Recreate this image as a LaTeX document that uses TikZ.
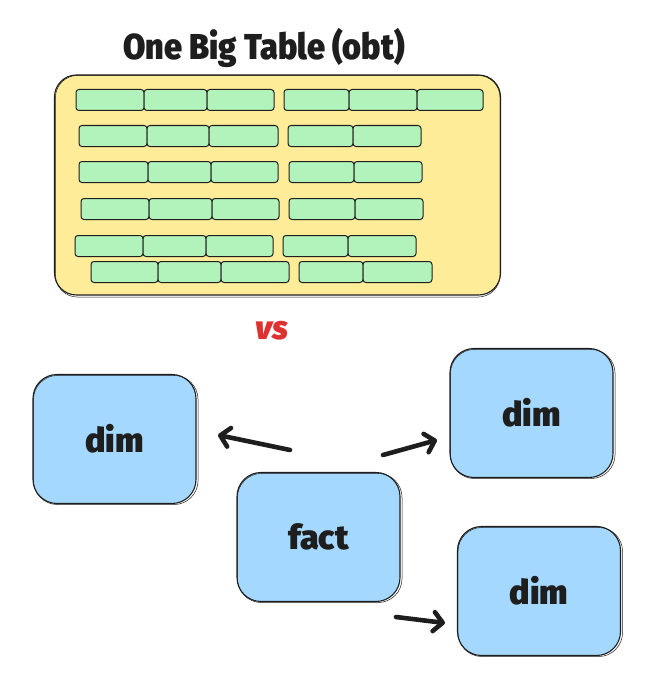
\documentclass[tikz,border=0pt]{standalone}
\usepackage{fontspec}
\setmainfont{Fira Sans}
\newfontfamily\heavy{Fira Sans}[UprightFont={* Black},ItalicFont={* Black Italic}]
\usetikzlibrary{arrows.meta,calc}
\definecolor{ink}{HTML}{1E1E1E}
\definecolor{yel}{HTML}{FFEC99}
\definecolor{grn}{HTML}{B2F2BB}
\definecolor{blu}{HTML}{A5D8FF}
\definecolor{vsred}{HTML}{E03131}
\tikzset{
  tablebox/.style={draw=ink,fill=yel,line width=1.1pt,rounded corners=22pt,inner sep=0pt},
  cellbox/.style={draw=ink,fill=grn,line width=1pt,rounded corners=3pt,inner sep=0pt,minimum height=21pt},
  entbox/.style={draw=ink,fill=blu,line width=1.1pt,rounded corners=24pt,inner sep=0pt,
     minimum width=163pt,minimum height=129pt,font=\heavy\fontsize{34}{34}\selectfont,text=ink},
  sketch/.style={draw=ink,line width=0.5pt,rounded corners=24pt},
  arr/.style={draw=ink,line width=4.6pt,line cap=round,line join=round,
     -{Straight Barb[length=9pt,width=19pt,line cap=round,line join=round]}},
}
\begin{document}
\begin{tikzpicture}[x=1pt,y=-1pt]
\useasboundingbox (0,0) rectangle (667,682);
% title
\node[font=\heavy\fontsize{36}{36}\selectfont,text=ink,xscale=0.9] (title) at (264,48) {One Big Table (obt)};
% table
\node[tablebox,minimum width=446pt,minimum height=220pt] (tbl) at (277.5,185) {};
\draw[sketch,rounded corners=22pt] ($(tbl.north west)+(1.5,1)$) rectangle ($(tbl.south east)+(-1,1.5)$);
\foreach \r/\y/\lst in {
  1/100/{76/144,144/207,207/274,284/349,349/417,417/483},
  2/136/{79/147,147/209,209/278,288/353,353/421},
  3/172/{79/148,148/211,211/278,289/354,354/422},
  4/209/{81/149,149/212,212/279,289/355,355/423},
  5/246/{75/143,143/206,206/273,283/348,348/416},
  6/272/{91/158,158/221,221/289,299/363,363/432}}{
  \foreach \a/\b [count=\i] in \lst {
    \pgfmathsetmacro\w{\b-\a}
    \node[cellbox,minimum width=\w pt] (c\r-\i) at ({(\a+\b)/2},\y) {};
  }
}
% vs
\node[font=\heavy\itshape\fontsize{33}{33}\selectfont,text=vsred] (vs) at (272,331) {vs};
% entities
\node[entbox] (dimL) at (114.5,439) {dim};
\node[entbox] (fact) at (318.5,537) {fact};
\node[entbox] (dimTR) at (531.5,413) {dim};
\node[entbox] (dimBR) at (539,591) {dim};
\foreach \n in {dimL,fact,dimTR,dimBR}{
  \draw[sketch] ($(\n.north west)+(1,1.5)$) rectangle ($(\n.south east)+(1.5,0.5)$);
}
% arrows
\coordinate (a1s) at (290,450);
\coordinate (a1e) at (218,435);
\coordinate (a2s) at (383,455);
\coordinate (a2e) at (437,440);
\coordinate (a3s) at (396,617);
\coordinate (a3e) at (445,623);
\draw[arr] (a1s) -- (a1e);
\draw[arr] (a2s) -- (a2e);
\draw[arr] (a3s) -- (a3e);
\end{tikzpicture}
\end{document}
